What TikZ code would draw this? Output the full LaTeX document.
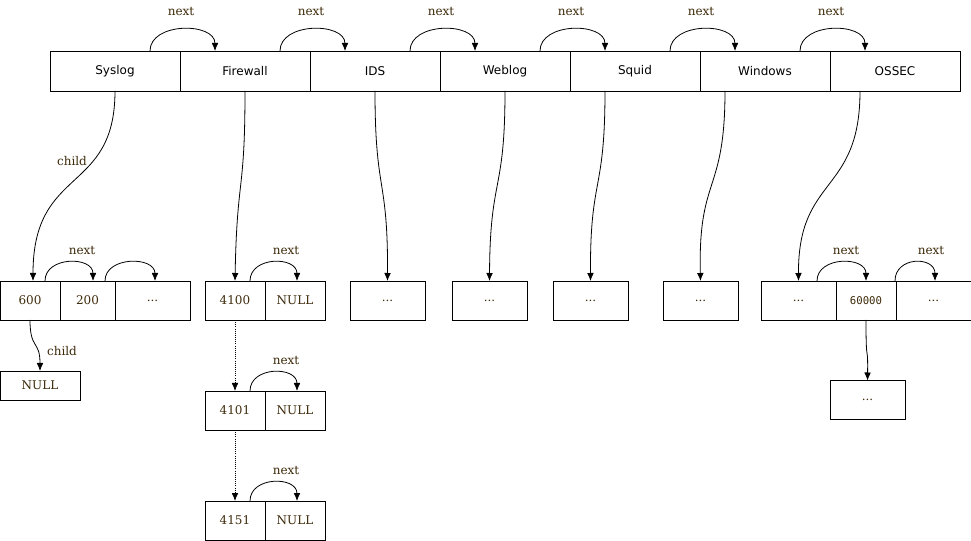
\documentclass[tikz,border=0pt]{standalone}
\usepackage{fontspec}
\setmainfont{DejaVu Serif}
\newfontfamily\sansf{DejaVu Sans}
\newfontfamily\monof{DejaVu Sans Mono}
\usetikzlibrary{arrows.meta}
\definecolor{lbl}{HTML}{3D2A0A}
\begin{document}
\begin{tikzpicture}[x=0.75pt,y=-0.75pt,
  bx/.style 2 args={draw,semithick,minimum width=#1*0.75pt,minimum height=#2*0.75pt,inner sep=0pt,outer sep=0pt,font=\fontsize{9}{10}\selectfont,text=lbl},
  top/.style={bx={130}{40},font=\sansf\fontsize{9}{10}\selectfont,text=black},
  arr/.style={-{Latex[length=6pt,width=5pt]},line width=0.6pt},
  lab/.style={font=\fontsize{9}{10}\selectfont,text=lbl}]
\useasboundingbox (0,0) rectangle (971,541);
% top row
\foreach \n/\t [count=\i] in {s1/Syslog,s2/Firewall,s3/IDS,s4/Weblog,s5/Squid,s6/Windows,s7/OSSEC}
  \node[top] (\n) at (50+130*\i-65,71) {\t};
\foreach \i in {1,...,6}{
  \draw[arr] (50+130*\i-30,51) .. controls (50+130*\i-30,22) and (50+130*\i+35,22) .. (50+130*\i+35,51);
  \node[lab] (tn\i) at (50+130*\i+1,12) {next};}
% row 2
\node[bx={60}{39}] (a1) at (30,300.5) {600};
\node[bx={55}{39}] (a2) at (87.5,300.5) {200};
\node[bx={75}{39}] (a3) at (152.5,300.5) {...};
\node[bx={60}{39}] (b1) at (235,300.5) {4100};
\node[bx={60}{39}] (b2) at (295,300.5) {NULL};
\node[bx={75}{39}] (c1) at (387.5,300.5) {...};
\node[bx={75}{39}] (d1) at (489.5,300.5) {...};
\node[bx={75}{39}] (e1) at (590.5,300.5) {...};
\node[bx={75}{39}] (f1) at (700.5,300.5) {...};
\node[bx={75}{39}] (g1) at (798.5,300.5) {...};
\node[bx={60}{39},font=\monof\fontsize{8}{10}\selectfont] (g2) at (866,300.5) {60000};
\node[bx={75}{39}] (g3) at (933.5,300.5) {...};
\node[bx={80}{29}] (n1) at (40,385.5) {NULL};
\node[bx={60}{39}] (b3) at (235,410.5) {4101};
\node[bx={60}{39}] (b4) at (295,410.5) {NULL};
\node[bx={60}{39}] (b5) at (235,520.5) {4151};
\node[bx={60}{39}] (b6) at (295,520.5) {NULL};
\node[bx={75}{39}] (g4) at (867.5,400) {...};
% child curves from top row
\draw[arr] (s1.south) .. controls (115,195) and (33,165) .. (a1.north -| 33,0);
\node[lab] (cl1) at (72,161) {child};
\draw[arr] (s2.south) .. controls (245,195) and (237,175) .. (b1.north);
\draw[arr] (s3.south) .. controls (375,195) and (388,175) .. (c1.north);
\draw[arr] (s4.south) .. controls (505,195) and (490,175) .. (d1.north);
\draw[arr] ([xshift=-22.5pt]s5.south) .. controls (605,195) and (590,175) .. (e1.north);
\draw[arr] ([xshift=-30pt]s6.south) .. controls (725,195) and (698,175) .. (f1.north);
\draw[arr] ([xshift=-26.25pt]s7.south) .. controls (860,195) and (798,175) .. (g1.north);
% next arcs row 2
\draw[arr] (45,281) .. controls (45,256) and (93,256) .. (93,281);
\draw[arr] (105,281) .. controls (105,256) and (155,256) .. (155,281);
\node[lab] (nx1) at (82,251) {next};
\draw[arr] (250,281) .. controls (250,256) and (297,256) .. (297,281);
\node[lab] (nx2) at (286,251) {next};
\draw[arr] (817,281) .. controls (817,256) and (866,256) .. (866,281);
\node[lab] (nx3) at (846,251) {next};
\draw[arr] (895,281) .. controls (895,256) and (935,256) .. (935,281);
\node[lab] (nx4) at (931,251) {next};
\draw[arr] (250,391) .. controls (250,366) and (297,366) .. (297,391);
\node[lab] (nx5) at (286,361) {next};
\draw[arr] (250,501) .. controls (250,476) and (297,476) .. (297,501);
\node[lab] (nx6) at (286,471) {next};
% vertical
\draw[arr] (a1.south) .. controls (30,350) and (40,340) .. (n1.north);
\node[lab] (cl2) at (62,351) {child};
\draw[arr,densely dotted] (b1.south) -- (b3.north);
\draw[arr,densely dotted] (b3.south) -- (b5.north);
\draw[arr] (g2.south) .. controls (866,370) and (868,340) .. (g4.north);
\end{tikzpicture}
\end{document}
